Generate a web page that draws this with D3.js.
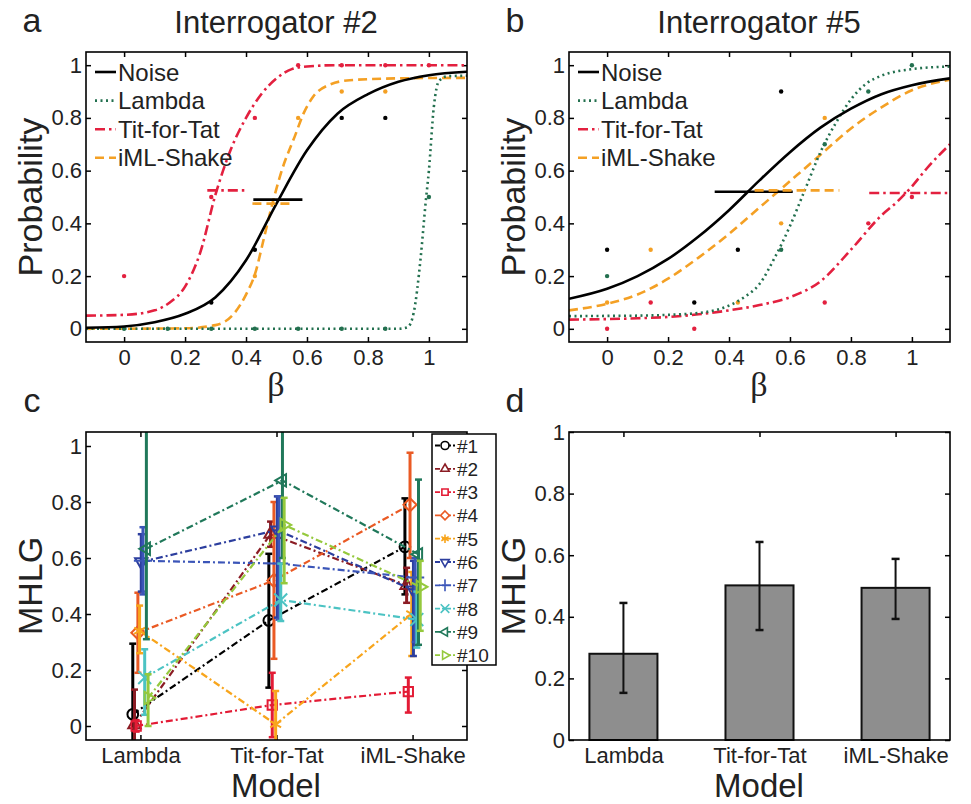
<!DOCTYPE html>
<html>
<head>
<meta charset="utf-8">
<script src="https://cdn.jsdelivr.net/npm/d3@7"></script>
<style>
  body { margin: 0; background: #fff; }
  svg { display: block; font-family: 'Liberation Sans', Arial, sans-serif; }
</style>
</head>
<body>
<div id="chart"></div>
<script>
// ---- panel a / b : fitted curves as [beta, probability]
const betaTicks = [0, 0.2, 0.4, 0.6, 0.8, 1];
const betaTickLabels = ['0', '0.2', '0.4', '0.6', '0.8', '1'];
const probTicks = [0, 0.2, 0.4, 0.6, 0.8, 1];
const probTickLabels = ['0', '0.2', '0.4', '0.6', '0.8', '1'];
const fitNames = ['Noise', 'Lambda', 'Tit-for-Tat', 'iML-Shake'];

const aNoise = [[-0.125, 0.004], [0, 0.009], [0.1, 0.025], [0.2, 0.057], [0.3, 0.12], [0.4, 0.26], [0.5, 0.475], [0.6, 0.677], [0.7, 0.816], [0.8, 0.89], [0.9, 0.937], [1, 0.962], [1.125, 0.975]];
const aLambda = [[-0.125, 0], [0.9, 0], [0.93, 0.006], [0.95, 0.06], [0.973, 0.27], [0.989, 0.475], [1.0, 0.6], [1.016, 0.84], [1.033, 0.94], [1.06, 0.958], [1.125, 0.96]];
const aTft = [[-0.125, 0.05], [0, 0.053], [0.1, 0.07], [0.15, 0.1], [0.2, 0.16], [0.25, 0.29], [0.3, 0.51], [0.35, 0.68], [0.4, 0.8], [0.45, 0.89], [0.5, 0.95], [0.55, 0.985], [0.6, 0.995], [0.7, 1], [1.125, 1]];
const aIml = [[-0.125, 0], [0.2, 0.002], [0.3, 0.014], [0.36, 0.057], [0.4, 0.13], [0.43, 0.21], [0.46, 0.35], [0.49, 0.49], [0.52, 0.61], [0.56, 0.73], [0.59, 0.82], [0.62, 0.88], [0.67, 0.924], [0.74, 0.943], [0.9, 0.95], [1.125, 0.952]];

const aDotsNoise = [[0.286, 0.1], [0.429, 0.3], [0.714, 0.8], [0.857, 0.8]];
const aDotsLambda = [[0, 0], [0.143, 0], [0.286, 0], [0.429, 0], [0.571, 0], [0.714, 0], [0.857, 0], [1, 0.5]];
const aDotsTft = [[0, 0.2], [0.286, 0.5], [0.429, 0.8], [0.571, 1], [0.714, 1], [0.857, 1], [1, 1]];
const aDotsIml = [[0.429, 0.2], [0.571, 0.8], [0.714, 0.9], [0.857, 0.9]];

// threshold bars: [beta from, beta to, probability]
const aMarkNoise = [0.424, 0.585, 0.49];
const aMarkTft = [0.273, 0.399, 0.525];
const aMarkIml = [0.421, 0.546, 0.475];

const bNoise = [[-0.125, 0.114], [0, 0.152], [0.1, 0.2], [0.2, 0.265], [0.3, 0.35], [0.4, 0.45], [0.5, 0.563], [0.6, 0.67], [0.7, 0.763], [0.8, 0.835], [0.9, 0.89], [1, 0.924], [1.125, 0.95]];
const bLambda = [[-0.125, 0.048], [0, 0.049], [0.1, 0.05], [0.2, 0.053], [0.3, 0.06], [0.4, 0.088], [0.45, 0.12], [0.5, 0.17], [0.55, 0.27], [0.6, 0.39], [0.65, 0.53], [0.7, 0.67], [0.75, 0.78], [0.8, 0.87], [0.85, 0.93], [0.9, 0.96], [1, 0.985], [1.125, 0.995]];
const bTft = [[-0.125, 0.035], [0, 0.037], [0.1, 0.04], [0.2, 0.045], [0.3, 0.055], [0.4, 0.07], [0.5, 0.09], [0.6, 0.12], [0.7, 0.18], [0.8, 0.3], [0.9, 0.43], [0.95, 0.48], [1, 0.54], [1.05, 0.61], [1.125, 0.7]];
const bIml = [[-0.125, 0.07], [0, 0.095], [0.1, 0.13], [0.2, 0.19], [0.3, 0.27], [0.4, 0.36], [0.5, 0.46], [0.6, 0.56], [0.7, 0.66], [0.8, 0.76], [0.9, 0.84], [1, 0.905], [1.125, 0.945]];

const bDotsNoise = [[0, 0.3], [0.286, 0.1], [0.429, 0.3], [0.571, 0.9]];
const bDotsLambda = [[0, 0.2], [0.571, 0.3], [0.714, 0.7], [0.857, 0.9], [1, 1]];
const bDotsTft = [[0, 0], [0.143, 0.1], [0.286, 0], [0.714, 0.1], [0.857, 0.4], [1, 0.5]];
const bDotsIml = [[0, 0.1], [0.143, 0.3], [0.429, 0.1], [0.571, 0.4], [0.714, 0.8]];

const bMarkNoise = [0.353, 0.609, 0.52];
const bMarkTft = [0.86, 1.125, 0.515];
const bMarkIml = [0.484, 0.762, 0.525];

// ---- panel c / d : MHLG per model
const models = ['Lambda', 'Tit-for-Tat', 'iML-Shake'];
const interrogators = ['#1', '#2', '#3', '#4', '#5', '#6', '#7', '#8', '#9', '#10'];
const mhlgMean = [
  [0.042, 0.377, 0.64],
  [0.005, 0.685, 0.502],
  [0.0, 0.075, 0.123],
  [0.333, 0.52, 0.79],
  [0.34, 0.006, 0.4],
  [0.586, 0.7, 0.485],
  [0.59, 0.58, 0.53],
  [0.173, 0.45, 0.38],
  [0.633, 0.877, 0.613],
  [0.1, 0.718, 0.497],
];
const mhlgLow = [
  [-0.2, 0.137, 0.47],
  [-0.12, 0.64, 0.44],
  [-0.02, -0.04, 0.048],
  [0.19, 0.24, 0.6],
  [0.26, -0.11, 0.25],
  [0.48, 0.387, 0.25],
  [0.47, 0.38, 0.3],
  [0.04, 0.375, 0.28],
  [0.31, 0.6, 0.29],
  [0.0, 0.51, 0.34],
];
const mhlgHigh = [
  [0.294, 0.615, 0.813],
  [0.13, 0.73, 0.565],
  [0.02, 0.19, 0.173],
  [0.476, 0.8, 0.976],
  [0.43, 0.125, 0.55],
  [0.685, 0.82, 0.59],
  [0.71, 0.82, 0.6],
  [0.274, 0.58, 0.48],
  [1.1, 1.15, 0.88],
  [0.185, 0.815, 0.59],
];
const modelMean = [0.28, 0.502, 0.494];
const modelLow = [0.153, 0.357, 0.393];
const modelHigh = [0.445, 0.643, 0.588];

// ---- styles
const fitColors = ['#000000', '#23704f', '#e3203f', '#f4a024'];
const fitDash = [null, '2,3.5', '10,4,2.5,4', '9,5'];
const seriesColors = ['#000000', '#8b1c24', '#e31b35', '#ea5a24', '#f8a51c', '#2c3e9e', '#3b55b8', '#4cc3c3', '#20785a', '#95c93d'];
const seriesSymbols = [
  d3.symbolCircle, d3.symbolTriangle2, d3.symbolSquare2, d3.symbolDiamond2, d3.symbolAsterisk,
  d3.symbolTriangle2, d3.symbolPlus, d3.symbolTimes, d3.symbolTriangle2, d3.symbolTriangle2,
];
const seriesRotate = [0, 0, 0, 0, 0, 180, 0, 0, -90, 90];

const WIDTH = 971;
const HEIGHT = 804;
const svg = d3.select('#chart').append('svg').attr('width', WIDTH).attr('height', HEIGHT);

let clipCount = 0;

const drawFrame = (g, x, y, xTicks, xLabels, yTicks, yLabels) => {
  const [x0, x1] = x.range();
  const [y0, y1] = y.range();
  g.append('g').attr('transform', `translate(0,${y0})`)
    .call(d3.axisBottom(x).tickValues(xTicks).tickFormat((_, i) => xLabels[i]).tickSizeInner(-5).tickSizeOuter(0).tickPadding(7));
  g.append('g').attr('transform', `translate(0,${y1})`)
    .call(d3.axisTop(x).tickValues(xTicks).tickFormat('').tickSizeInner(-5).tickSizeOuter(0));
  g.append('g').attr('transform', `translate(${x0},0)`)
    .call(d3.axisLeft(y).tickValues(yTicks).tickFormat((_, i) => yLabels[i]).tickSizeInner(-5).tickSizeOuter(0).tickPadding(4));
  g.append('g').attr('transform', `translate(${x1},0)`)
    .call(d3.axisRight(y).tickValues(yTicks).tickFormat('').tickSizeInner(-5).tickSizeOuter(0));
  g.selectAll('.domain').remove();
  g.selectAll('.tick line').attr('stroke', '#000').attr('stroke-width', 1.5);
  g.selectAll('.tick text').attr('font-size', 22).attr('fill', '#222').attr('font-family', "'Liberation Sans', Arial, sans-serif");

  const id = `clip-${clipCount++}`;
  g.append('clipPath').attr('id', id).append('rect')
    .attr('x', x0).attr('y', y1).attr('width', x1 - x0).attr('height', y0 - y1);
  return id;
};

const drawBorder = (g, x, y) => {
  const [x0, x1] = x.range();
  const [y0, y1] = y.range();
  g.append('rect').attr('x', x0).attr('y', y1).attr('width', x1 - x0).attr('height', y0 - y1)
    .attr('fill', 'none').attr('stroke', '#000').attr('stroke-width', 1.6);
};

const addText = (txt, x, y, size, opts = {}) => {
  const t = svg.append('text').attr('x', x).attr('y', y).attr('font-size', size)
    .attr('fill', '#222').attr('text-anchor', opts.anchor || 'middle').text(txt);
  if (opts.rotate) t.attr('transform', `rotate(-90,${x},${y})`);
  if (opts.family) t.attr('font-family', opts.family);
  return t;
};

// ---------- panels a and b
const drawFitPanel = (left, curves, dots, marks, title, letter) => {
  const x = d3.scaleLinear().domain([-0.125, 1.125]).range([left, left + 381]);
  const y = d3.scaleLinear().domain([-0.05, 1.05]).range([342, 52]);
  const g = svg.append('g');
  const clip = drawFrame(g, x, y, betaTicks, betaTickLabels, probTicks, probTickLabels);
  const plot = g.append('g').attr('clip-path', `url(#${clip})`);
  const line = d3.line().x((d) => x(d[0])).y((d) => y(d[1])).curve(d3.curveMonotoneX);

  // draw order: TfT, iML, Lambda, Noise on top
  [2, 3, 1, 0].forEach((k) => {
    plot.append('path').datum(curves[k]).attr('d', line)
      .attr('fill', 'none').attr('stroke', fitColors[k]).attr('stroke-width', 2.6)
      .attr('stroke-dasharray', fitDash[k]);
    plot.selectAll(null).data(dots[k]).join('circle')
      .attr('cx', (d) => x(d[0])).attr('cy', (d) => y(d[1])).attr('r', 2.2)
      .attr('fill', fitColors[k]);
  });
  [0, 2, 3].forEach((k, i) => {
    const m = marks[i];
    plot.append('line').attr('x1', x(m[0])).attr('x2', x(m[1])).attr('y1', y(m[2])).attr('y2', y(m[2]))
      .attr('stroke', fitColors[k]).attr('stroke-width', 2.6).attr('stroke-dasharray', fitDash[k]);
  });

  // legend
  fitNames.forEach((name, k) => {
    const ly = 72 + k * 28.6;
    g.append('line').attr('x1', left + 9).attr('x2', left + 30).attr('y1', ly).attr('y2', ly)
      .attr('stroke', fitColors[k]).attr('stroke-width', 2.6).attr('stroke-dasharray', fitDash[k]);
    g.append('text').attr('x', left + 32).attr('y', ly + 8.5).attr('font-size', 24).attr('fill', '#222').text(name);
  });

  drawBorder(g, x, y);
  addText(title, left + 190, 33, 31);
  addText(letter, left - 54, 32, 34);
  addText('Probability', left - 44, 197, 34, { rotate: true });
  addText('\u03b2', left + 190, 396, 34, { family: "'Liberation Serif', 'DejaVu Serif', serif" });
};

drawFitPanel(86, [aNoise, aLambda, aTft, aIml], [aDotsNoise, aDotsLambda, aDotsTft, aDotsIml],
  [aMarkNoise, aMarkTft, aMarkIml], 'Interrogator #2', 'a');
drawFitPanel(569, [bNoise, bLambda, bTft, bIml], [bDotsNoise, bDotsLambda, bDotsTft, bDotsIml],
  [bMarkNoise, bMarkTft, bMarkIml], 'Interrogator #5', 'b');

// ---------- panel c
(() => {
  const x = d3.scaleLinear().domain([0.6, 3.4]).range([86, 467]);
  const y = d3.scaleLinear().domain([-0.05, 1.05]).range([740, 432]);
  const g = svg.append('g');
  const clip = drawFrame(g, x, y, [1, 2, 3], models, probTicks, probTickLabels);
  const plot = g.append('g').attr('clip-path', `url(#${clip})`);
  const offset = (i) => (i - 4.5) * 0.0125;

  interrogators.forEach((name, i) => {
    const color = seriesColors[i];
    const pts = mhlgMean[i].map((v, j) => [j + 1 + offset(i), v]);
    mhlgMean[i].forEach((_, j) => {
      const cx = x(j + 1 + offset(i));
      const lo = y(mhlgLow[i][j]);
      const hi = y(mhlgHigh[i][j]);
      plot.append('line').attr('x1', cx).attr('x2', cx).attr('y1', lo).attr('y2', hi)
        .attr('stroke', color).attr('stroke-width', 3);
      [lo, hi].forEach((yy) => {
        plot.append('line').attr('x1', cx - 3.5).attr('x2', cx + 3.5).attr('y1', yy).attr('y2', yy)
          .attr('stroke', color).attr('stroke-width', 2.5);
      });
    });
    plot.append('path').datum(pts)
      .attr('d', d3.line().x((d) => x(d[0])).y((d) => y(d[1])))
      .attr('fill', 'none').attr('stroke', color).attr('stroke-width', 2.2)
      .attr('stroke-dasharray', '7,3,2,3');
    plot.selectAll(null).data(pts).join('path')
      .attr('d', d3.symbol(seriesSymbols[i], i === 0 ? 90 : 110))
      .attr('transform', (d) => `translate(${x(d[0])},${y(d[1])}) rotate(${seriesRotate[i]})`)
      .attr('fill', 'none').attr('stroke', color).attr('stroke-width', 2);
  });

  drawBorder(g, x, y);

  // legend
  const lg = svg.append('g');
  lg.append('rect').attr('x', 432).attr('y', 434).attr('width', 64).attr('height', 231)
    .attr('fill', '#fff').attr('stroke', '#000').attr('stroke-width', 1.5);
  interrogators.forEach((name, i) => {
    const ly = 445.5 + i * 23.3;
    const color = seriesColors[i];
    lg.append('line').attr('x1', 435).attr('x2', 455).attr('y1', ly).attr('y2', ly)
      .attr('stroke', color).attr('stroke-width', 1.8).attr('stroke-dasharray', '5,2,2,2');
    lg.append('path').attr('d', d3.symbol(seriesSymbols[i], 50))
      .attr('transform', `translate(445,${ly}) rotate(${seriesRotate[i]})`)
      .attr('fill', '#fff').attr('stroke', color).attr('stroke-width', 1.6);
    lg.append('text').attr('x', 457).attr('y', ly + 7).attr('font-size', 19).attr('fill', '#222').text(name);
  });

  addText('c', 32, 412, 34);
  addText('MHLG', 42, 586, 34, { rotate: true });
  addText('Model', 276, 797, 33);
})();

// ---------- panel d
(() => {
  const x = d3.scaleLinear().domain([0.6, 3.4]).range([569, 950]);
  const y = d3.scaleLinear().domain([0, 1]).range([740, 432]);
  const g = svg.append('g');
  drawFrame(g, x, y, [1, 2, 3], models, probTicks, probTickLabels);
  const bw = x(1.5) - x(1);

  g.selectAll(null).data(modelMean).join('rect')
    .attr('x', (_, j) => x(j + 1) - bw / 2).attr('width', bw)
    .attr('y', (d) => y(d)).attr('height', (d) => y(0) - y(d))
    .attr('fill', '#8e8e8e').attr('stroke', '#111').attr('stroke-width', 2);

  modelMean.forEach((_, j) => {
    const cx = x(j + 1);
    g.append('line').attr('x1', cx).attr('x2', cx).attr('y1', y(modelLow[j])).attr('y2', y(modelHigh[j]))
      .attr('stroke', '#111').attr('stroke-width', 2);
    [modelLow[j], modelHigh[j]].forEach((v) => {
      g.append('line').attr('x1', cx - 4).attr('x2', cx + 4).attr('y1', y(v)).attr('y2', y(v))
        .attr('stroke', '#111').attr('stroke-width', 2.5);
    });
  });

  drawBorder(g, x, y);
  addText('d', 515, 412, 34);
  addText('MHLG', 525, 586, 34, { rotate: true });
  addText('Model', 759, 797, 33);
})();
</script>
</body>
</html>
